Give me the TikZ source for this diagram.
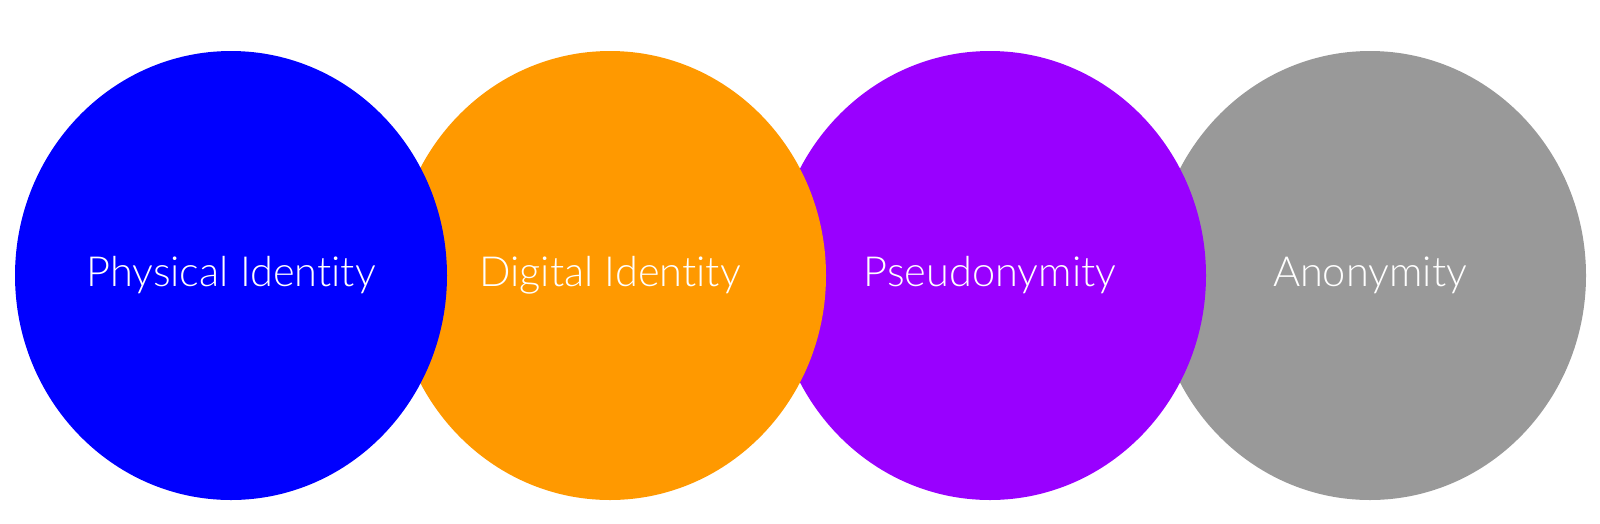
\documentclass[tikz,border=0pt]{standalone}
\usepackage{fontspec}
\setmainfont{Lato Light}[Ligatures={NoCommon,NoDiscretionary,NoRare}]
\usetikzlibrary{shapes.geometric}
\definecolor{cblue}{HTML}{0000FF}
\definecolor{corange}{HTML}{FF9900}
\definecolor{cpurple}{HTML}{9900FF}
\definecolor{cgray}{HTML}{999999}
\tikzset{
  blob/.style={ellipse, draw=none, inner sep=0pt, minimum width=432pt, minimum height=449pt,
    text=white, font=\fontsize{41.5}{48}\selectfont}
}
\begin{document}
\begin{tikzpicture}[x=1pt,y=-1pt]
\useasboundingbox (0,0) rectangle (1600,523);
\fill[white] (0,0) rectangle (1600,523);
\node[blob, fill=cgray]   (anon)  at (1370,275.5) {Anonymity};
\node[blob, fill=cpurple] (pseudo) at (990,275.5) {Pseudonymity};
\node[blob, fill=corange] (digital) at (610,275.5) {Digital Identity};
\node[blob, fill=cblue]   (phys)  at (231,275.5) {Physical Identity};
\end{tikzpicture}
\end{document}
